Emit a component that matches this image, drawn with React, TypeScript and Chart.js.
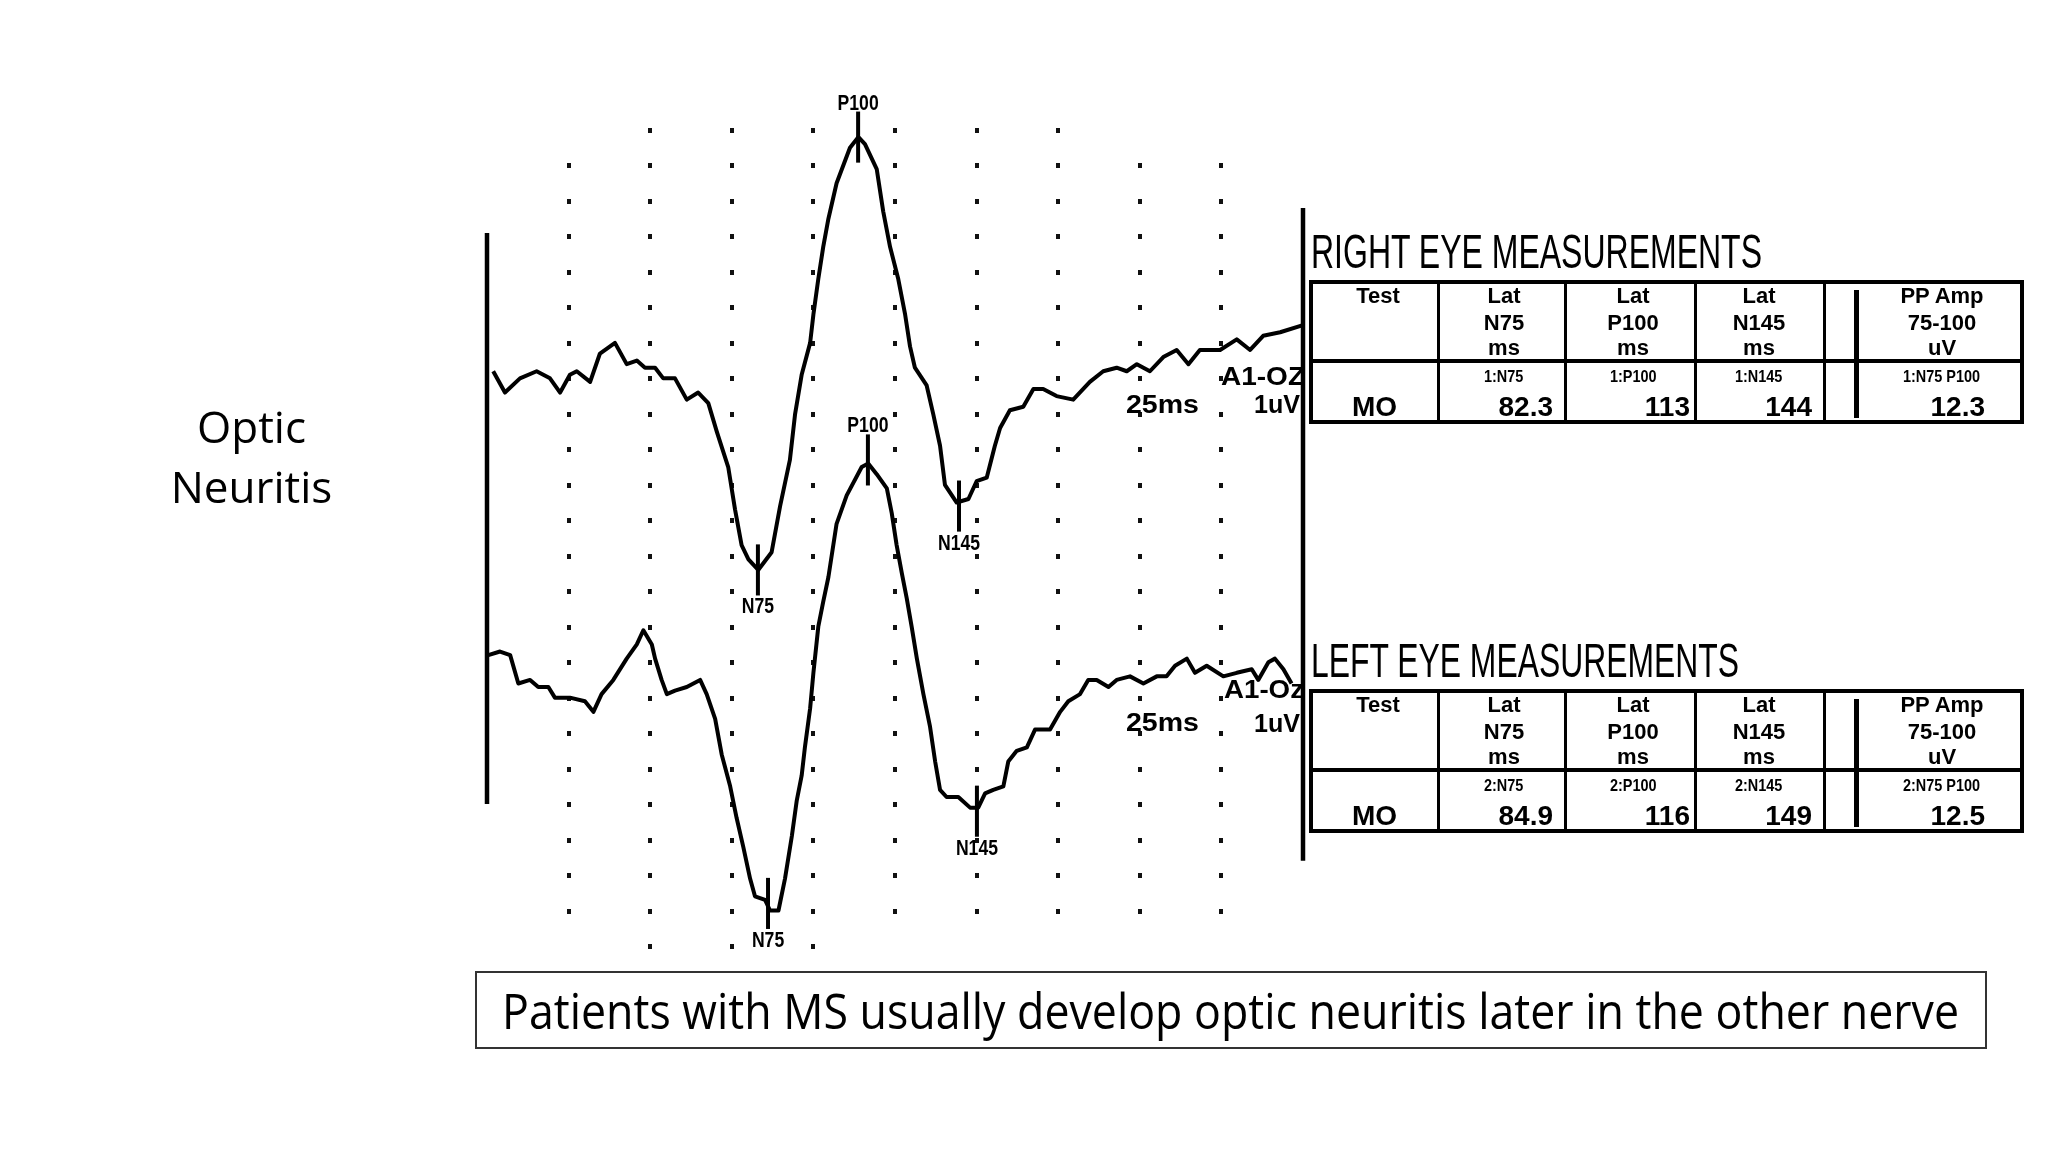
import React, { useEffect, useLayoutEffect, useRef } from "react";
import { Chart, registerables } from "chart.js";

Chart.register(...registerables);

// ---------------- data ----------------
// [latency ms, level µV] – 1 µV per dotted row, 25 ms per dotted column
const rightEyeTrace: [number, number][] = [
  [1.9, 16.2], [5.5, 15.6], [10.1, 16.0], [15.2, 16.2], [19.3, 16.0], [22.4, 15.6], [25.4, 16.1],
  [27.5, 16.2], [31.6, 15.9], [34.6, 16.7], [39.2, 17.0], [42.8, 16.4], [45.9, 16.5], [48.4, 16.3],
  [51.5, 16.3], [54.0, 16.0], [57.6, 16.0], [61.2, 15.4], [64.7, 15.6], [67.8, 15.3], [70.4, 14.5],
  [73.9, 13.5], [76.0, 12.3], [78.0, 11.3], [80.1, 10.9], [83.1, 10.6], [87.2, 11.1], [89.8, 12.4],
  [92.8, 13.7], [94.4, 15.0], [96.4, 16.1], [99.0, 17.0], [100.0, 17.8], [101.5, 18.8], [103.0, 19.7],
  [104.6, 20.5], [107.1, 21.5], [111.2, 22.5], [113.8, 22.8], [115.8, 22.6], [119.4, 21.9], [121.4, 20.7],
  [123.5, 19.7], [126.0, 18.8], [128.1, 17.8], [129.6, 16.9], [131.1, 16.3], [134.7, 15.8], [136.7, 15.0],
  [138.8, 14.1], [140.3, 13.0], [143.9, 12.5], [147.5, 12.6], [150.0, 13.1], [153.1, 13.2], [155.6, 14.1],
  [157.2, 14.6], [160.2, 15.1], [164.3, 15.2], [167.4, 15.7], [170.4, 15.7], [174.5, 15.5], [179.6, 15.4],
  [184.7, 15.9], [188.8, 16.2], [192.9, 16.3], [196.0, 16.2], [199.1, 16.4], [203.1, 16.2], [207.2, 16.6],
  [211.3, 16.8], [214.9, 16.4], [218.4, 16.8], [224.6, 16.8], [229.7, 17.1], [233.8, 16.8], [237.8, 17.2],
  [243.0, 17.3], [250.0, 17.5],
];

const leftEyeTrace: [number, number][] = [
  [0.4, 8.2], [4.0, 8.3], [7.1, 8.2], [9.6, 7.4], [13.2, 7.5], [15.7, 7.3], [18.8, 7.3], [20.8, 7.0],
  [25.4, 7.0], [30.0, 6.9], [32.6, 6.6], [35.1, 7.1], [38.7, 7.5], [42.8, 8.1], [45.9, 8.5], [47.9, 8.9],
  [50.5, 8.5], [51.5, 8.1], [53.5, 7.5], [55.1, 7.1], [57.6, 7.2], [61.2, 7.3], [65.3, 7.5], [67.3, 7.1],
  [69.9, 6.4], [71.9, 5.4], [74.5, 4.5], [76.5, 3.6], [78.5, 2.8], [80.6, 1.9], [82.1, 1.4], [85.2, 1.3],
  [86.7, 1.0], [89.3, 1.0], [91.3, 1.9], [93.4, 3.1], [94.9, 4.1], [96.4, 4.8], [97.4, 5.6], [99.0, 6.7],
  [100.0, 7.7], [101.5, 9.0], [103.0, 9.7], [104.6, 10.4], [107.1, 11.9], [110.2, 12.7], [114.8, 13.5],
  [116.8, 13.6], [119.4, 13.3], [122.5, 12.9], [124.0, 12.2], [125.5, 11.3], [127.1, 10.5], [128.6, 9.8],
  [130.1, 9.0], [131.7, 8.1], [133.7, 7.1], [135.7, 6.2], [137.3, 5.2], [138.8, 4.4], [140.8, 4.2],
  [144.4, 4.2], [148.0, 3.9], [150.5, 3.9], [152.6, 4.3], [155.1, 4.4], [158.2, 4.5], [159.7, 5.2],
  [162.3, 5.5], [165.4, 5.6], [167.9, 6.1], [172.5, 6.1], [175.6, 6.6], [178.1, 6.9], [181.7, 7.1],
  [184.2, 7.5], [186.8, 7.5], [190.4, 7.3], [192.9, 7.5], [197.0, 7.6], [201.1, 7.4], [205.2, 7.6],
  [208.2, 7.6], [210.8, 7.9], [214.4, 8.1], [216.9, 7.7], [220.5, 7.9], [225.6, 7.6], [229.7, 7.7],
  [234.3, 7.8], [236.3, 7.5], [239.4, 8.0], [241.4, 8.1], [244.0, 7.8], [246.5, 7.4],
];

const peakNames = ["N75", "P100", "N145"];
const rightPeakLatency = [83.0, 113.7, 144.6];
const rightPeakLevel = [10.6, 22.8, 12.4];
const leftPeakLatency = [86.1, 116.7, 150.1];
const leftPeakLevel = [1.2, 13.7, 3.8];

const gridLatencies = [25, 50, 75, 100, 125, 150, 175, 200, 225];
const gridFirstRow = [1, 0, 0, 0, 1, 1, 1, 1, 1];
const gridLastRow = [22, 23, 23, 23, 23, 23, 23, 22, 22];

const barLatency = [0, 250];
const barFrom = [4.0, 2.4];
const barTo = [20.1, 20.8];

const timeRange = [0, 250];
const levelRange = [0, 23];

const timeBaseLabel = "25ms";
const gainLabel = "1uV";
const rightChannelLabel = "A1-OZ";
const leftChannelLabel = "A1-Oz";

const tableHeader: string[][] = [
  ["Test"],
  ["Lat", "N75", "ms"],
  ["Lat", "P100", "ms"],
  ["Lat", "N145", "ms"],
  ["PP Amp", "75-100", "uV"],
];
const testName = "MO";
const rightEyeLabels = ["1:N75", "1:P100", "1:N145", "1:N75 P100"];
const rightEyeValues = ["82.3", "113", "144", "12.3"];
const leftEyeLabels = ["2:N75", "2:P100", "2:N145", "2:N75 P100"];
const leftEyeValues = ["84.9", "116", "149", "12.5"];

const sideTitle = ["Optic", "Neuritis"];
const caption = "Patients with MS usually develop optic neuritis later in the other nerve";

// ---------------- text helper ----------------
const CAP_OFFSET: Record<string, number> = { "Liberation Sans": 0.1305, "Open Sans": 0.174 };

type TxtProps = {
  x: number;
  capTop: number;
  size: number;
  text: string;
  align?: "left" | "center" | "right";
  fit?: number;
  sx?: number;
  weight?: number;
  family?: string;
};

function Txt(p: TxtProps) {
  const ref = useRef<HTMLDivElement>(null);
  const fam = p.family ?? "Liberation Sans";
  useLayoutEffect(() => {
    const el = ref.current;
    if (!el) return;
    const place = () => {
      el.style.transform = "none";
      const nat = el.getBoundingClientRect().width || 1;
      const s = p.fit ? p.fit / nat : p.sx ?? 1;
      const w = nat * s;
      const left = p.align === "center" ? p.x - w / 2 : p.align === "right" ? p.x - w : p.x;
      el.style.left = left + "px";
      el.style.transform = `scaleX(${s})`;
    };
    place();
    if ((document as any).fonts?.ready) (document as any).fonts.ready.then(place);
  });
  return (
    <div
      ref={ref}
      style={{
        position: "absolute",
        top: p.capTop - (CAP_OFFSET[fam] ?? 0.13) * p.size,
        left: p.x,
        fontFamily: `'${fam}', sans-serif`,
        fontSize: p.size,
        lineHeight: `${p.size}px`,
        fontWeight: p.weight ?? 400,
        whiteSpace: "nowrap",
        transformOrigin: "0 0",
        color: "#000",
      }}
    >
      {p.text}
    </div>
  );
}

// ---------------- chart ----------------
const vepPlugin = {
  id: "vepDecor",
  beforeDatasetsDraw(chart: any) {
    const { ctx, scales } = chart;
    const x = scales.x;
    const y = scales.y;
    ctx.save();
    ctx.fillStyle = "#111";
    gridLatencies.forEach((ms, i) => {
      const px = x.getPixelForValue(ms);
      for (let r = gridFirstRow[i]; r <= gridLastRow[i]; r++) {
        const py = y.getPixelForValue(r);
        ctx.fillRect(Math.round(px - 2), Math.round(py - 2), 4, 5);
      }
    });
    ctx.strokeStyle = "#000";
    ctx.lineWidth = 4.5;
    barLatency.forEach((ms, i) => {
      const px = x.getPixelForValue(ms);
      ctx.beginPath();
      ctx.moveTo(px, y.getPixelForValue(barFrom[i]));
      ctx.lineTo(px, y.getPixelForValue(barTo[i]));
      ctx.stroke();
    });
    ctx.restore();
  },
  afterDatasetsDraw(chart: any) {
    const { ctx, scales } = chart;
    const x = scales.x;
    const y = scales.y;
    const half = 0.72;
    ctx.save();
    ctx.strokeStyle = "#000";
    ctx.fillStyle = "#000";
    ctx.lineWidth = 4;
    ctx.font = "bold 22px 'Liberation Sans', sans-serif";
    ctx.textAlign = "center";
    ctx.textBaseline = "alphabetic";
    const draw = (lat: number[], lev: number[]) => {
      lat.forEach((ms, i) => {
        const px = x.getPixelForValue(ms);
        const top = y.getPixelForValue(lev[i] + half);
        const bot = y.getPixelForValue(lev[i] - half);
        ctx.beginPath();
        ctx.moveTo(px, top);
        ctx.lineTo(px, bot);
        ctx.stroke();
        const name = peakNames[i];
        const base = name.startsWith("P") ? top - 2 : bot + 18;
        ctx.save();
        ctx.translate(px, base);
        ctx.scale(0.8, 1);
        ctx.fillText(name, 0, 0);
        ctx.restore();
      });
    };
    draw(rightPeakLatency, rightPeakLevel);
    draw(leftPeakLatency, leftPeakLevel);
    ctx.restore();
  },
};

function VepChart() {
  const ref = useRef<HTMLCanvasElement>(null);
  useEffect(() => {
    const canvas = ref.current;
    if (!canvas) return;
    const chart = new Chart(canvas, {
      type: "line",
      data: {
        datasets: [
          {
            label: "Right eye",
            data: rightEyeTrace.map(([a, b]) => ({ x: a, y: b })),
            borderColor: "#000",
            borderWidth: 4,
            pointRadius: 0,
            tension: 0,
            fill: false,
            clip: false as any,
            borderJoinStyle: "round",
          },
          {
            label: "Left eye",
            data: leftEyeTrace.map(([a, b]) => ({ x: a, y: b })),
            borderColor: "#000",
            borderWidth: 4,
            pointRadius: 0,
            tension: 0,
            fill: false,
            clip: false as any,
            borderJoinStyle: "round",
          },
        ],
      },
      options: {
        animation: false,
        responsive: false,
        devicePixelRatio: 1,
        layout: { padding: { left: 487, right: 745, top: 130, bottom: 206 } },
        scales: {
          x: { type: "linear", min: timeRange[0], max: timeRange[1], display: false },
          y: { type: "linear", min: levelRange[0], max: levelRange[1], display: false },
        },
        plugins: { legend: { display: false }, tooltip: { enabled: false } },
        events: [],
      },
      plugins: [vepPlugin],
    });
    return () => chart.destroy();
  }, []);
  return (
    <canvas
      ref={ref}
      width={2048}
      height={1152}
      style={{ position: "absolute", left: 0, top: 0, width: 2048, height: 1152 }}
    />
  );
}

// ---------------- tables ----------------
function EyeTable(props: { top: number; title: string; titleWidth: number; labels: string[]; values: string[] }) {
  const { top, title, titleWidth, labels, values } = props;
  const L = 1309;
  const colLines = [128, 255, 385, 514];
  const centers = [1378, 1504, 1633, 1759, 1942];
  const valueRight = [1553, 1690, 1812, 1985];
  const headCaps = [8, 35, 60];
  return (
    <>
      <Txt x={1311} capTop={top - 47} size={49} text={title} fit={titleWidth} />
      <div
        style={{
          position: "absolute",
          left: L,
          top,
          width: 715,
          height: 144,
          border: "4px solid #000",
          boxSizing: "border-box",
        }}
      />
      <div style={{ position: "absolute", left: L, top: top + 79, width: 715, height: 4, background: "#000" }} />
      {colLines.map((c, i) => (
        <div key={i} style={{ position: "absolute", left: L + c, top, width: 3, height: 144, background: "#000" }} />
      ))}
      <div style={{ position: "absolute", left: L + 545, top: top + 10, width: 5, height: 128, background: "#000" }} />
      {tableHeader.map((lines, ci) =>
        lines.map((t, li) => (
          <Txt key={`${ci}-${li}`} x={centers[ci]} capTop={top + headCaps[li]} size={22} weight={700} text={t} align="center" />
        ))
      )}
      <Txt x={1352} capTop={top + 117} size={28} weight={700} text={testName} />
      {labels.map((t, i) => (
        <Txt key={`l${i}`} x={centers[i + 1]} capTop={top + 90} size={17} weight={700} text={t} align="center" sx={0.85} />
      ))}
      {values.map((t, i) => (
        <Txt key={`v${i}`} x={valueRight[i]} capTop={top + 117} size={28} weight={700} text={t} align="right" />
      ))}
    </>
  );
}

export default function App() {
  return (
    <div
      style={{
        position: "absolute",
        left: 0,
        top: 0,
        width: 2048,
        height: 1152,
        background: "#fff",
        overflow: "hidden",
      }}
    >
      <VepChart />

      <Txt x={1126} capTop={394} size={26} weight={700} text={timeBaseLabel} fit={73} />
      <Txt x={1221} capTop={366} size={26} weight={700} text={rightChannelLabel} fit={84} />
      <Txt x={1254} capTop={394} size={26} weight={700} text={gainLabel} fit={46} />
      <Txt x={1126} capTop={712} size={26} weight={700} text={timeBaseLabel} fit={73} />
      <Txt x={1224} capTop={679} size={26} weight={700} text={leftChannelLabel} fit={80} />
      <Txt x={1254} capTop={713} size={26} weight={700} text={gainLabel} fit={46} />

      <EyeTable top={280} title="RIGHT EYE MEASUREMENTS" titleWidth={451} labels={rightEyeLabels} values={rightEyeValues} />
      <EyeTable top={689} title="LEFT EYE MEASUREMENTS" titleWidth={428} labels={leftEyeLabels} values={leftEyeValues} />

      <Txt x={251.5} capTop={412} size={44} family="Open Sans" text={sideTitle[0]} align="center" />
      <Txt x={251.5} capTop={472} size={44} family="Open Sans" text={sideTitle[1]} align="center" />

      <div
        style={{
          position: "absolute",
          left: 475,
          top: 971,
          width: 1512,
          height: 78,
          border: "2px solid #333",
          boxSizing: "border-box",
        }}
      />
      <Txt x={502} capTop={995} size={49} family="Open Sans" text={caption} fit={1457} />
    </div>
  );
}
